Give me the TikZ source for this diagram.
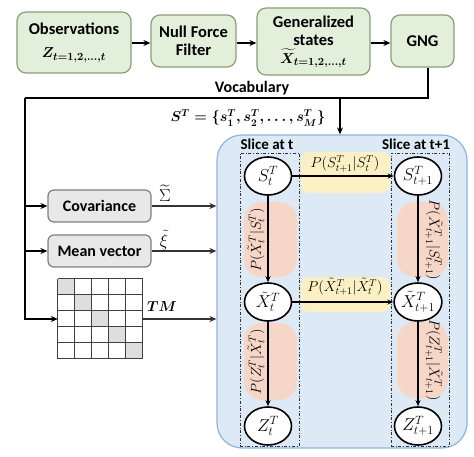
\documentclass[tikz,border=0pt]{standalone}
\usepackage{amsmath}
\usepackage{fontspec}
\setmainfont{Carlito}
\usetikzlibrary{arrows.meta,calc,shapes.geometric}
\definecolor{gfill}{HTML}{E2EFDA}
\definecolor{gdraw}{HTML}{8A9E78}
\definecolor{grfill}{HTML}{E8E8E8}
\definecolor{grdraw}{HTML}{7F7F7F}
\definecolor{bfill}{HTML}{DDEAF6}
\definecolor{bdraw}{HTML}{8EB4E3}
\definecolor{yfill}{HTML}{FBEFC4}
\definecolor{pfill}{HTML}{F6D6C6}
\begin{document}
\begin{tikzpicture}[x=1pt,y=-1pt,
  lbl/.style={font=\fontsize{16}{18}\selectfont\bfseries},
  slbl/.style={font=\fontsize{15}{17}\selectfont\bfseries},
  mlbl/.style={font=\fontsize{14.5}{17}\selectfont},
  mlbl2/.style={font=\fontsize{17}{19}\selectfont, inner sep=0pt},
  gbox/.style={draw=gdraw, fill=gfill, line width=1.2pt, rounded corners=9pt, align=center, inner sep=2pt, font=\fontsize{16.5}{18.5}\selectfont\bfseries},
  graybox/.style={draw=grdraw, fill=grfill, line width=1.2pt, rounded corners=6pt, minimum width=103pt, minimum height=32pt, inner sep=0pt, font=\fontsize{16}{18}\selectfont\bfseries},
  conn/.style={line width=2.3pt, -{Stealth[length=7pt,width=6pt]}},
  plain/.style={line width=2.3pt},
  oarr/.style={line width=2pt, draw=black!80, -{Stealth[length=7pt,width=6pt]}},
  slicebox/.style={draw=black!80, dash dot, line width=0.8pt, inner sep=0pt},
  ybox/.style={fill=yfill, rounded corners=8pt, inner sep=0pt, minimum width=89pt},
  pbox/.style={fill=pfill, rounded corners=18pt, inner sep=0pt},
  circ/.style={ellipse, draw, fill=white, line width=1.6pt, minimum width=47pt, minimum height=38pt, inner sep=0pt, font=\fontsize{18}{20}\selectfont},
  carr/.style={line width=1.4pt, -{Stealth[length=6pt,width=5pt]}},
  plbl/.style={font=\fontsize{14.5}{16}\selectfont, inner sep=0pt},
  gridline/.style={draw=black!75, line width=0.9pt}
]
\useasboundingbox (0,0) rectangle (474,457);
% top row
\node[gbox, minimum width=114pt, minimum height=61pt] (obs) at (74,42.5) {Observations\\[5pt] {\fontsize{15}{17}\selectfont$\boldsymbol{Z_{t=1,2,\ldots,t}}$}};
\node[gbox, minimum width=85pt, minimum height=52pt] (nff) at (193.5,41) {Null Force\\Filter};
\node[gbox, minimum width=113pt, minimum height=67pt] (gen) at (313.5,41.5) {Generalized\\states\\[-1pt] {\fontsize{15}{17}\selectfont$\boldsymbol{\widetilde{X}_{t=1,2,\ldots,t}}$}};
\node[gbox, minimum width=63pt, minimum height=52pt] (gng) at (422.5,41) {GNG};
\draw[conn] (obs.east |- 0,43) -- (nff.west |- 0,43);
\draw[conn] (nff.east |- 0,43) -- (gen.west |- 0,43);
\draw[conn] (gen.east |- 0,43) -- (gng.west |- 0,43);
% blue region
\node[draw=bdraw, fill=bfill, line width=1.2pt, rounded corners=25pt, minimum width=250pt, minimum height=313pt, inner sep=0pt] (blue) at (342,291.5) {};
% vocabulary connectors
\coordinate (g0) at (428,98);
\coordinate (l0) at (25,98);
\coordinate (b0) at (340,98);
\node[lbl] (voc) at (252,88) {Vocabulary};
\node[mlbl] (vocset) at (248,118) {$\boldsymbol{S^T=\{s^T_1,s^T_2,\ldots,s^T_M\}}$};
% left boxes
\node[graybox] (cov) at (99.5,206) {Covariance};
\node[graybox] (mean) at (99.5,251) {Mean vector};
\node[minimum width=85pt, minimum height=80pt, inner sep=0pt] (tm) at (100.5,319) {};
\foreach \i in {0,...,4} \fill[black!13] ($(tm.north west)+(17*\i,16*\i)$) rectangle ++(17,16);
\foreach \i in {0,...,5} {
  \draw[gridline] ($(tm.north west)+(17*\i,0)$) -- ++(0,80);
  \draw[gridline] ($(tm.north west)+(0,16*\i)$) -- ++(85,0);
}
\draw[plain] (gng.south -| g0) |- (l0);
\draw[conn] (l0) |- (tm.west);
\draw[conn] (l0 |- cov.west) -- (cov.west);
\draw[conn] (l0 |- mean.west) -- (mean.west);
\draw[conn] (b0) -- (b0 |- blue.north);
\draw[oarr] (cov.east) -- (cov.east -| blue.west);
\draw[oarr] (mean.east) -- (mean.east -| blue.west);
\draw[oarr] (tm.east) -- (tm.east -| blue.west);
\node[mlbl2] (sig) at (165,193) {$\widetilde{\Sigma}$};
\node[mlbl2] (xi) at (164,240) {$\tilde{\xi}$};
\node[mlbl, inner sep=0pt] (tml) at (162,307) {$\boldsymbol{TM}$};
% slices
\node[slicebox, minimum width=59pt, minimum height=293pt] (sl) at (269.5,299.5) {};
\node[slicebox, minimum width=58pt, minimum height=293pt] (sr) at (420,299.5) {};
\node[slbl] (slt) at (267,144) {Slice at t};
\node[slbl] (slt1) at (416,144) {Slice at t+1};
\node[ybox, minimum height=41pt] (y1) at (345.5,172.5) {};
\node[ybox, minimum height=35pt] (y2) at (345.5,294.5) {};
\node[pbox, minimum width=53pt, minimum height=75pt] (p1) at (270.5,239.5) {};
\node[pbox, minimum width=53pt, minimum height=77pt] (p2) at (270.5,361.5) {};
\node[pbox, minimum width=51pt, minimum height=75pt] (p3) at (422.5,239.5) {};
\node[pbox, minimum width=51pt, minimum height=76pt] (p4) at (422.5,360) {};
% nodes
\node[circ] (st) at (268,176) {$S^T_t$};
\node[circ] (xt) at (268,302) {$\tilde{X}^T_t$};
\node[circ] (zt) at (268,426) {$Z^T_t$};
\node[circ] (st1) at (418,176) {$S^T_{t+1}$};
\node[circ] (xt1) at (418,302) {$\tilde{X}^T_{t+1}$};
\node[circ] (zt1) at (418,426) {$Z^T_{t+1}$};
\draw[carr] (st) -- (st1);
\draw[carr] (xt) -- (xt1);
\draw[carr] (st) -- (xt);
\draw[carr] (xt) -- (zt);
\draw[carr] (st1) -- (xt1);
\draw[carr] (xt1) -- (zt1);
\node[plbl] (l1) at (345,164) {$P(S^T_{t+1}|S^T_t)$};
\node[plbl] (l2) at (345,287) {$P(\tilde{X}^T_{t+1}|\tilde{X}^T_t)$};
\node[plbl, rotate=90] (l3) at (256,240) {$P(\tilde{X}^T_t|S^T_t)$};
\node[plbl, rotate=90] (l4) at (256,362) {$P(Z^T_t|\tilde{X}^T_t)$};
\node[plbl, rotate=-90] (l5) at (434,240) {$P(\tilde{X}^T_{t+1}|S^T_{t+1})$};
\node[plbl, rotate=-90] (l6) at (434,360) {$P(Z^T_{t+1}|\tilde{X}^T_{t+1})$};
\end{tikzpicture}
\end{document}
